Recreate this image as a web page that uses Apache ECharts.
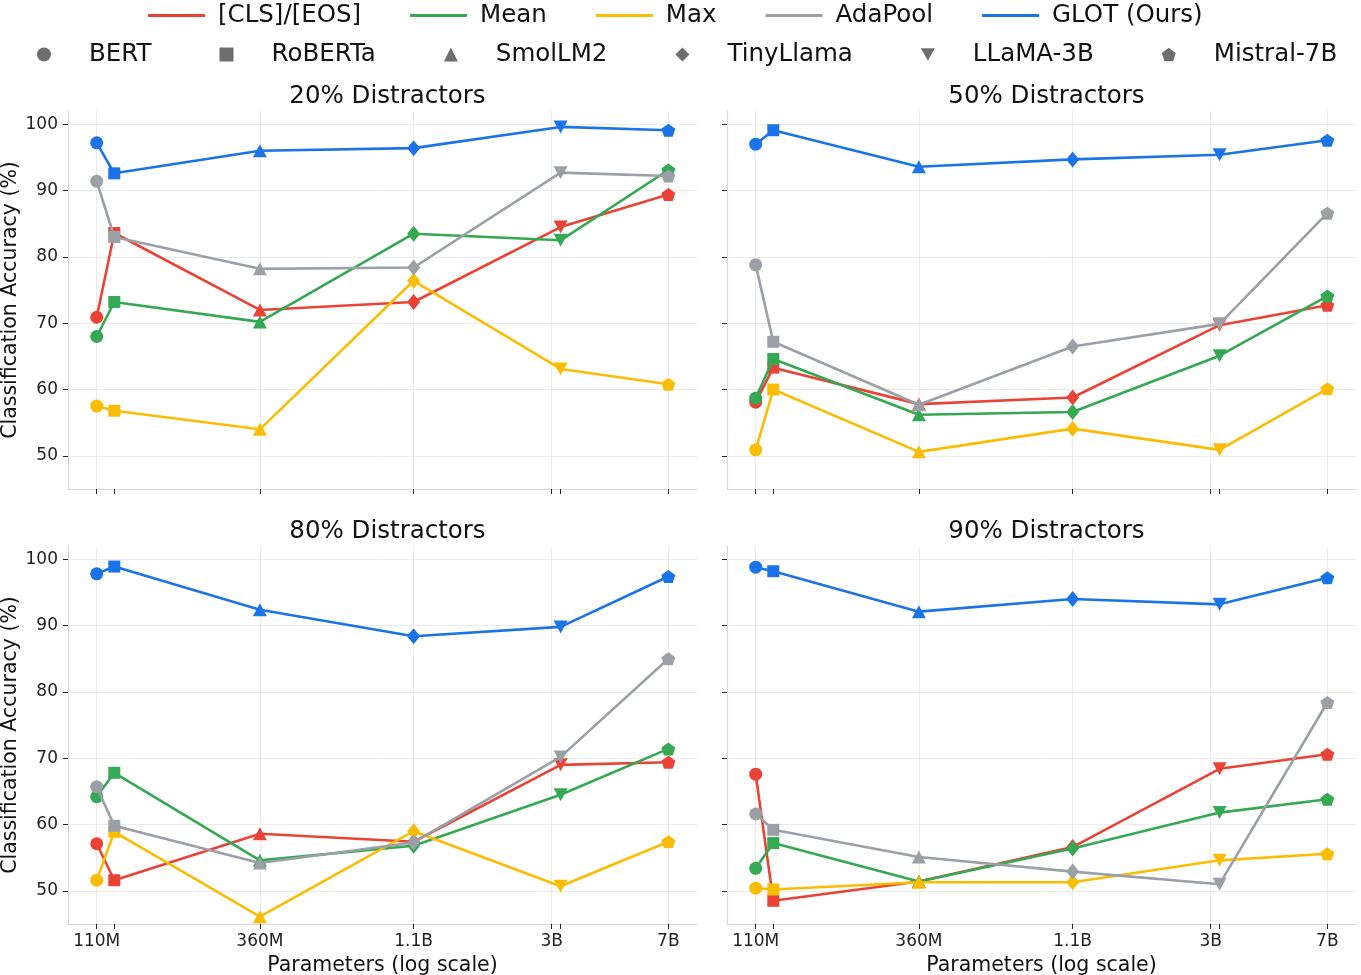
<!DOCTYPE html>
<html><head><meta charset="utf-8">
<script src="https://cdn.jsdelivr.net/npm/echarts@6/dist/echarts.min.js"></script>
<style>html,body{margin:0;padding:0;background:#fff}#c{width:1361px;height:975px}</style>
</head><body><div id="c"></div>
<script>
// ---------- data ----------
const modelNames = ['BERT', 'RoBERTa', 'SmolLM2', 'TinyLlama', 'LLaMA-3B', 'Mistral-7B'];
const modelParams = [110e6, 125e6, 360e6, 1.1e9, 3.2e9, 7e9];
const methods = ['[CLS]/[EOS]', 'Mean', 'Max', 'AdaPool', 'GLOT (Ours)'];
const panelTitles = ['20% Distractors', '50% Distractors', '80% Distractors', '90% Distractors'];
const xTickValues = [110e6, 360e6, 1.1e9, 3e9, 7e9];
const xTickLabels = ['110M', '360M', '1.1B', '3B', '7B'];
const xMinorTickValues = [125e6, 3.2e9];
const yTickValues = [50, 60, 70, 80, 90, 100];

const cls20  = [70.9, 83.6, 72.0, 73.2, 84.5, 89.4];
const mean20 = [68.0, 73.2, 70.2, 83.5, 82.5, 93.1];
const max20  = [57.5, 56.8, 54.0, 76.4, 63.1, 60.8];
const ada20  = [91.4, 83.0, 78.2, 78.4, 92.7, 92.2];
const glot20 = [97.2, 92.6, 96.0, 96.4, 99.6, 99.1];

const cls50  = [58.1, 63.3, 57.8, 58.8, 69.7, 72.7];
const mean50 = [58.7, 64.6, 56.2, 56.6, 65.1, 74.1];
const max50  = [50.9, 60.0, 50.6, 54.1, 50.9, 60.1];
const ada50  = [78.8, 67.2, 57.7, 66.5, 69.9, 86.6];
const glot50 = [97.0, 99.1, 93.6, 94.7, 95.4, 97.6];

const cls80  = [57.1, 51.6, 58.6, 57.4, 69.0, 69.4];
const mean80 = [64.2, 67.8, 54.6, 56.8, 64.5, 71.4];
const max80  = [51.6, 58.9, 46.1, 59.0, 50.7, 57.4];
const ada80  = [65.7, 59.8, 54.2, 57.3, 70.2, 85.0];
const glot80 = [97.8, 98.9, 92.4, 88.4, 89.8, 97.4];

const cls90  = [67.6, 48.5, 51.4, 56.6, 68.4, 70.6];
const mean90 = [53.4, 57.2, 51.4, 56.4, 61.8, 63.8];
const max90  = [50.4, 50.2, 51.3, 51.3, 54.6, 55.6];
const ada90  = [61.6, 59.2, 55.1, 52.9, 51.0, 78.4];
const glot90 = [98.8, 98.2, 92.1, 94.0, 93.2, 97.2];

const panelData = [
  [cls20, mean20, max20, ada20, glot20],
  [cls50, mean50, max50, ada50, glot50],
  [cls80, mean80, max80, ada80, glot80],
  [cls90, mean90, max90, ada90, glot90]
];

// ---------- styles ----------
const methodColors = ['#EA4335', '#34A853', '#FBBC04', '#9AA0A6', '#1A73E8'];
const DOWN_TRI = 'path://M0,0L10,0L5,9Z';
const PENTAGON = 'path://M0,-1L0.951,-0.309L0.588,0.809L-0.588,0.809L-0.951,-0.309Z';
const modelSymbols = ['circle', 'rect', 'triangle', 'diamond', DOWN_TRI, PENTAGON];
const modelSymbolSizes = [13, 12, [14, 13], [13, 16], [14, 13], [14, 13]];
const FONT = 'DejaVu Sans';
const grids = [
  { left: 68, top: 111, width: 629, height: 378, outerBoundsMode: 'none', containLabel: false },
  { left: 727, top: 111, width: 629, height: 378, outerBoundsMode: 'none', containLabel: false },
  { left: 68, top: 546, width: 629, height: 378, outerBoundsMode: 'none', containLabel: false },
  { left: 727, top: 546, width: 629, height: 378, outerBoundsMode: 'none', containLabel: false }
];
const X_MIN = 89.3e6, X_MAX = 8.62e9;

function fmtX(v) {
  if (v < 1000) v = Math.pow(10, v);
  let best = 0, bd = Infinity;
  xTickValues.forEach((t, i) => { const d = Math.abs(Math.log(v / t)); if (d < bd) { bd = d; best = i; } });
  return xTickLabels[best];
}

const xAxes = [], yAxes = [], series = [], titles = [];
grids.forEach((g, i) => {
  const bottom = i >= 2, left = i % 2 === 0;
  xAxes.push({
    type: 'log', gridIndex: i, position: 'bottom', min: X_MIN, max: X_MAX,
    axisLine: { show: true, lineStyle: { color: '#d9d9d9', width: 1.2 } },
    axisTick: { show: true, customValues: xTickValues, length: 5, lineStyle: { color: '#222', width: 1 } },
    axisLabel: { show: bottom, customValues: xTickValues, formatter: fmtX, fontFamily: FONT, fontSize: 17, color: '#222', margin: 9 },
    splitLine: { show: true, lineStyle: { color: '#ebebeb', width: 1 } },
    minorTick: { show: false }, minorSplitLine: { show: false },
    name: bottom ? 'Parameters (log scale)' : '', nameLocation: 'middle', nameGap: 31,
    nameTextStyle: { fontFamily: FONT, fontSize: 20.5, color: '#111' }
  });
  yAxes.push({
    type: 'value', gridIndex: i, min: 45, max: 102,
    axisLine: { show: true, lineStyle: { color: '#d9d9d9', width: 1.2 } },
    axisTick: { show: true, customValues: yTickValues, length: 5, lineStyle: { color: '#222', width: 1 } },
    axisLabel: { show: left, customValues: yTickValues, fontFamily: FONT, fontSize: 17, color: '#222', margin: 10 },
    splitLine: { show: true, lineStyle: { color: '#ebebeb', width: 1 } },
    name: left ? 'Classification Accuracy (%)' : '', nameLocation: 'middle', nameGap: 47,
    nameTextStyle: { fontFamily: FONT, fontSize: 20.5, color: '#111' }
  });
  titles.push({
    text: panelTitles[i], left: g.left + g.width / 2, top: g.top - 32, textAlign: 'center',
    textStyle: { fontFamily: FONT, fontSize: 24.5, fontWeight: 'normal', color: '#111' }
  });
  panelData[i].forEach((vals, m) => {
    series.push({
      type: 'line', name: methods[m], xAxisIndex: i, yAxisIndex: i,
      data: modelParams.map((x, k) => [x, vals[k]]),
      symbol: (v, p) => modelSymbols[p.dataIndex],
      symbolSize: (v, p) => modelSymbolSizes[p.dataIndex],
      showAllSymbol: true,
      lineStyle: { color: methodColors[m], width: 2.6 },
      itemStyle: { color: methodColors[m], borderWidth: 0 },
      emphasis: { disabled: true }, z: 2 + m, animation: false
    });
  });
});
// extra (unlabelled) ticks at RoBERTa / LLaMA-3B sizes
grids.forEach((g, i) => {
  xAxes.push({
    type: 'log', gridIndex: i, position: 'bottom', min: X_MIN, max: X_MAX,
    axisLine: { show: false },
    axisTick: { show: true, customValues: xMinorTickValues, length: 5, lineStyle: { color: '#222', width: 1 } },
    axisLabel: { show: false }, splitLine: { show: false }
  });
});
// legend-only series for model markers
modelNames.forEach((n) => {
  series.push({ type: 'line', name: n, xAxisIndex: 0, yAxisIndex: 0, data: [],
    itemStyle: { color: '#6e6e6e' }, lineStyle: { color: '#6e6e6e' } });
});

const option = {
  backgroundColor: '#fff',
  animation: false,
  title: titles,
  grid: grids,
  xAxis: xAxes,
  yAxis: yAxes,
  legend: [
    {
      data: methods.map(n => ({ name: n })), top: -2, left: 148, padding: [5, 0, 5, 0],
      icon: 'rect', itemWidth: 57, itemHeight: 3, itemGap: 49, selectedMode: false,
      textStyle: { fontFamily: FONT, fontSize: 24.5, color: '#111', padding: [0, 0, 0, 8] }
    },
    {
      data: modelNames.map((n, i) => ({ name: n, icon: modelSymbols[i] })), top: 37, left: 37, padding: [5, 0, 5, 0],
      itemWidth: 14, itemHeight: 14, itemGap: 68, selectedMode: false,
      textStyle: { fontFamily: FONT, fontSize: 24.5, color: '#111', padding: [0, 0, 0, 33] }
    }
  ],
  series: series
};
const chart = echarts.init(document.getElementById('c'), null, { renderer: 'canvas' });
chart.setOption(option);
</script></body></html>
